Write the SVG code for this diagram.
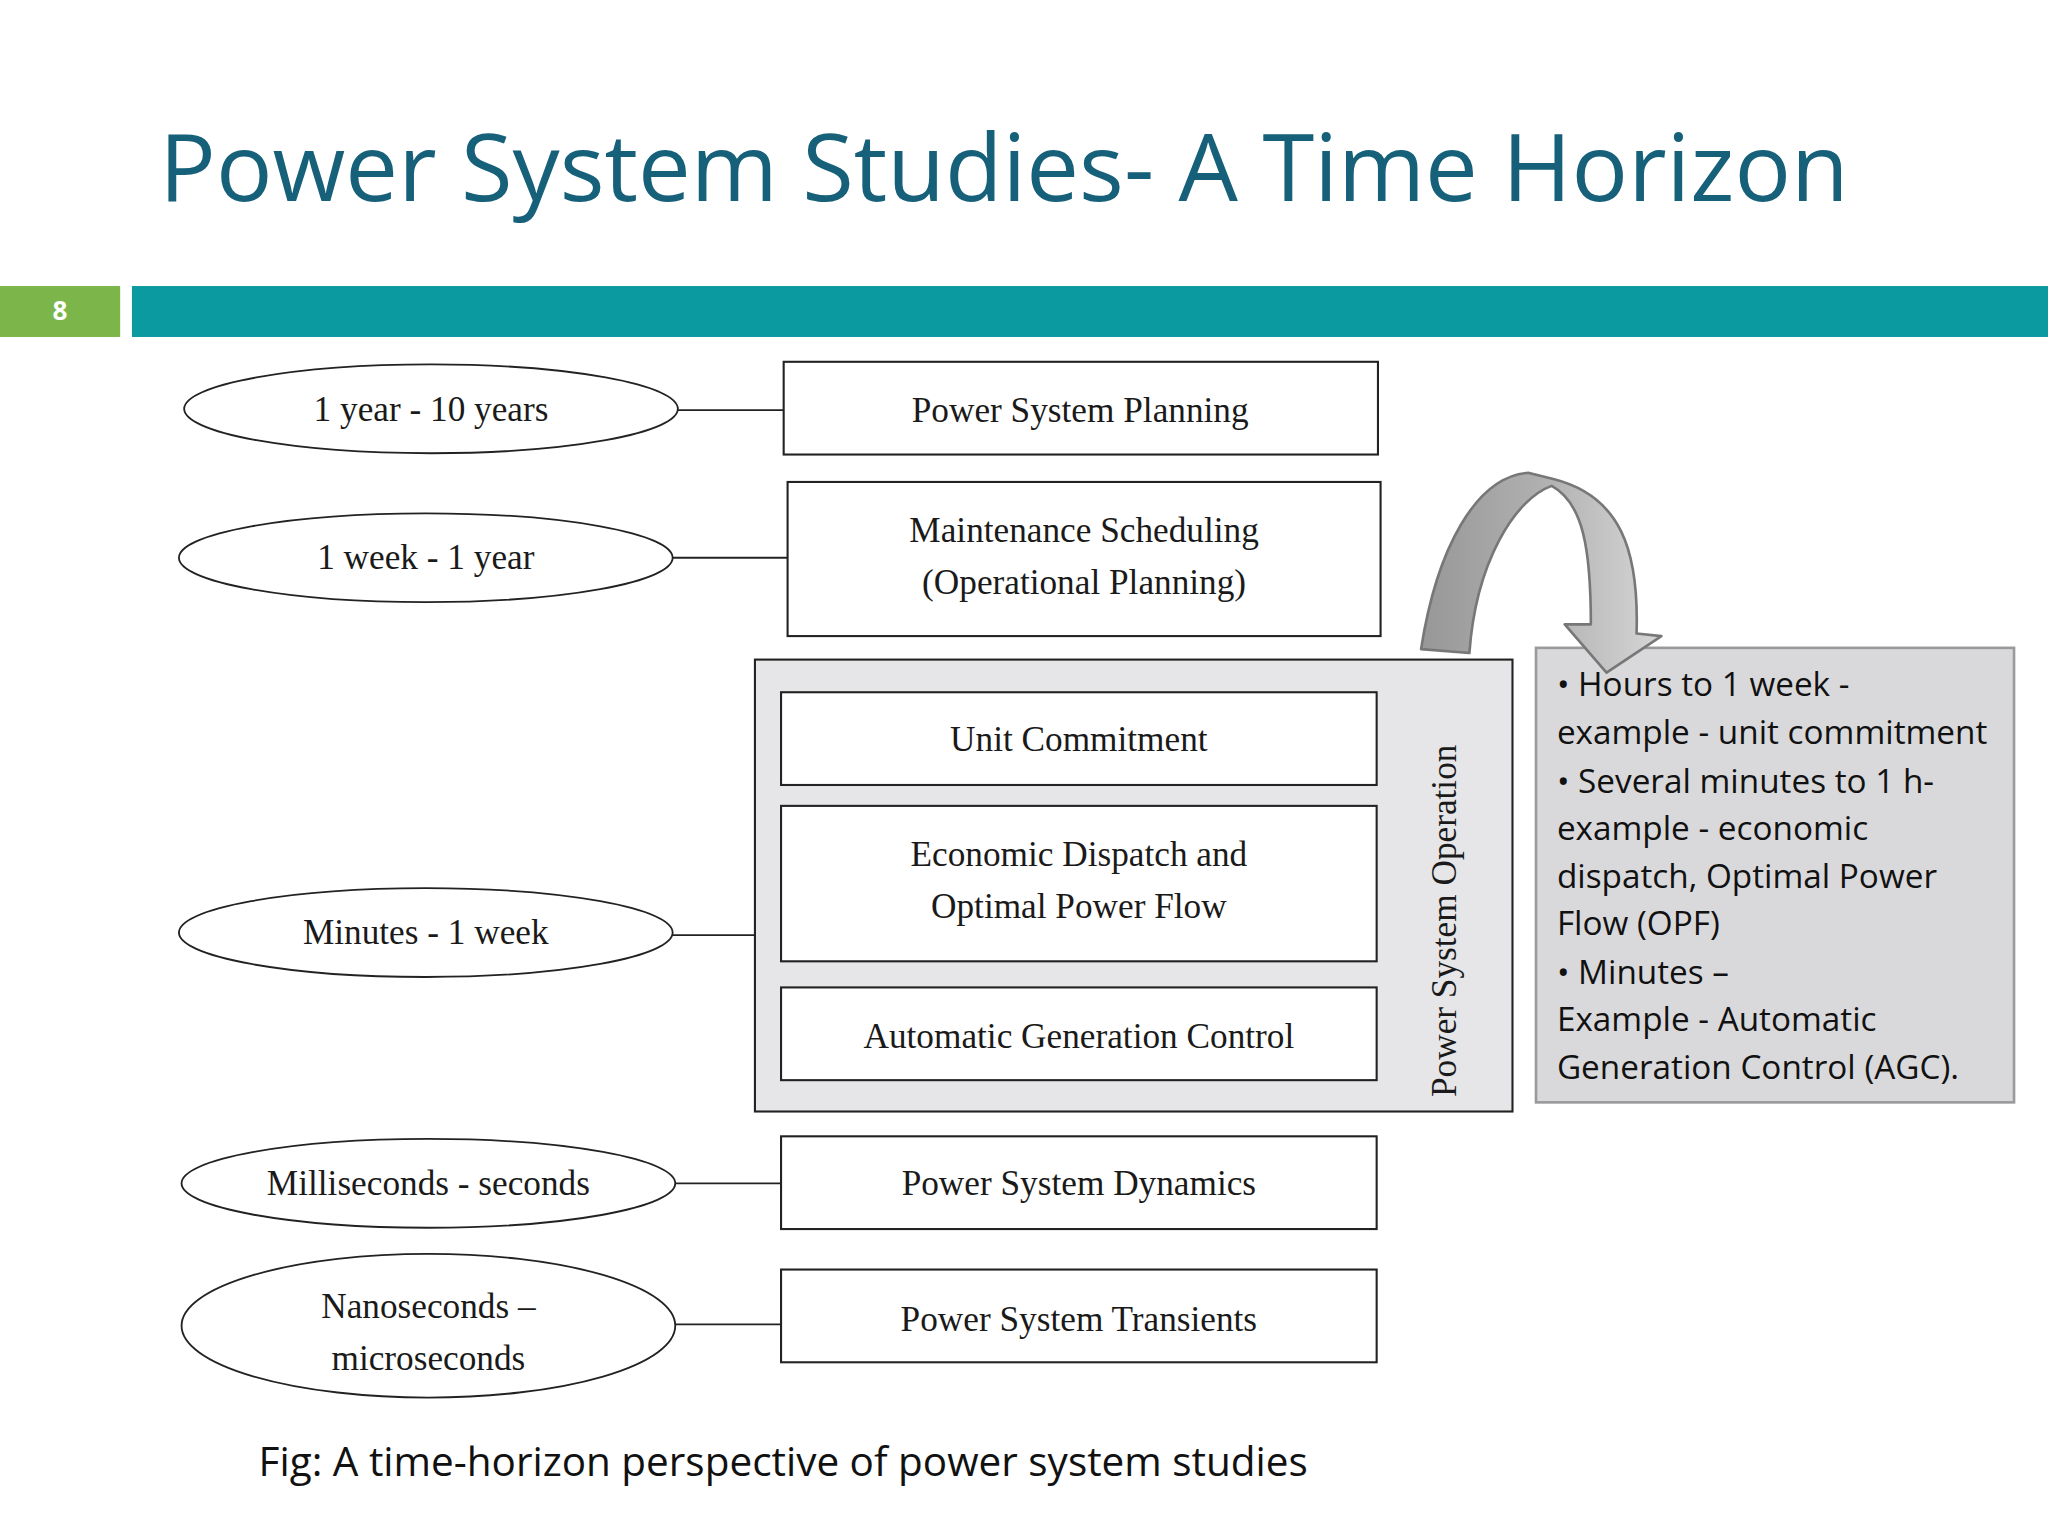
<svg xmlns="http://www.w3.org/2000/svg" width="2048" height="1536" viewBox="0 0 2048 1536">
<style>
.s{font-family:"Liberation Serif","Times New Roman",serif;font-size:27px;fill:#1a1a1a;text-anchor:middle}
.b{fill:#fff;stroke:#222;stroke-width:1.6}
.e{fill:#fff;stroke:#222;stroke-width:1.4}
.c{stroke:#222;stroke-width:1.4;fill:none}
.g{font-family:"Open Sans","Liberation Sans",sans-serif;font-size:25.5px;fill:#111}
</style>
<defs>
<linearGradient id="ag" x1="0" y1="0" x2="1" y2="0">
<stop offset="0" stop-color="#979797"/><stop offset="0.5" stop-color="#b0b0b0"/><stop offset="1" stop-color="#d6d6d6"/>
</linearGradient>
</defs>
<rect width="2048" height="1536" fill="#fff"/>
<g transform="scale(1.30612)">
<text x="122" y="154" font-family="'Open Sans','Liberation Sans',sans-serif" font-size="72" fill="#17607a">Power System Studies- A Time Horizon</text>
<rect x="0" y="219" width="92" height="39" fill="#7cb64a"/>
<text x="46" y="245" font-family="'Open Sans','Liberation Sans',sans-serif" font-size="20" font-weight="bold" fill="#fff" text-anchor="middle">8</text>
<rect x="101" y="219" width="1467" height="39" fill="#0b9aa0"/>
<g id="connectors">
<line class="c" x1="519" y1="314" x2="600" y2="314"/>
<line class="c" x1="515" y1="427" x2="603" y2="427"/>
<line class="c" x1="515" y1="716" x2="578" y2="716"/>
<line class="c" x1="517" y1="906" x2="598" y2="906"/>
<line class="c" x1="517" y1="1014" x2="598" y2="1014"/>
</g>
<g id="e1"><ellipse class="e" cx="330" cy="313" rx="189" ry="34"/><text class="s" x="330" y="322">1 year - 10 years</text></g>
<g id="e2"><ellipse class="e" cx="326" cy="427" rx="189" ry="34"/><text class="s" x="326" y="436">1 week - 1 year</text></g>
<g id="e3"><ellipse class="e" cx="326" cy="714" rx="189" ry="34"/><text class="s" x="326" y="723">Minutes - 1 week</text></g>
<g id="e4"><ellipse class="e" cx="328" cy="906" rx="189" ry="34"/><text class="s" x="328" y="915">Milliseconds - seconds</text></g>
<g id="e5"><ellipse class="e" cx="328" cy="1015" rx="189" ry="55"/><text class="s" x="328" y="1009">Nanoseconds –</text><text class="s" x="328" y="1049">microseconds</text></g>
<g id="planning"><rect class="b" x="600" y="277" width="455" height="71"/><text class="s" x="827" y="323">Power System Planning</text></g>
<g id="maint"><rect class="b" x="603" y="369" width="454" height="118"/><text class="s" x="830" y="415">Maintenance Scheduling</text><text class="s" x="830" y="455">(Operational Planning)</text></g>
<g id="operation"><rect x="578" y="505" width="580" height="346" fill="#e6e6e8" stroke="#222" stroke-width="1.6"/>
<text class="s" transform="translate(1115,705) rotate(-90)">Power System Operation</text></g>
<g id="uc"><rect class="b" x="598" y="530" width="456" height="71"/><text class="s" x="826" y="575">Unit Commitment</text></g>
<g id="ed"><rect class="b" x="598" y="617" width="456" height="119"/><text class="s" x="826" y="663">Economic Dispatch and</text><text class="s" x="826" y="703">Optimal Power Flow</text></g>
<g id="agc"><rect class="b" x="598" y="756" width="456" height="71"/><text class="s" x="826" y="802">Automatic Generation Control</text></g>
<g id="dyn"><rect class="b" x="598" y="870" width="456" height="71"/><text class="s" x="826" y="915">Power System Dynamics</text></g>
<g id="trans"><rect class="b" x="598" y="972" width="456" height="71"/><text class="s" x="826" y="1019">Power System Transients</text></g>
<g id="notes"><rect x="1176" y="496" width="366" height="348" fill="#d9d9db" stroke="#9a9a9a" stroke-width="2"/>
<text class="g" x="1192" y="533">• Hours to 1  week  -</text>
<text class="g" x="1192" y="570">example - unit commitment</text>
<text class="g" x="1192" y="607">• Several minutes to 1 h-</text>
<text class="g" x="1192" y="643">example - economic</text>
<text class="g" x="1192" y="680">dispatch, Optimal Power</text>
<text class="g" x="1192" y="716">Flow (OPF)</text>
<text class="g" x="1192" y="753">• Minutes –</text>
<text class="g" x="1192" y="789">Example - Automatic</text>
<text class="g" x="1192" y="826">Generation Control (AGC).</text>
</g>
<g id="arrow"><path d="M1088,497 C1100,420 1130,365 1170,362 L1190,367 C1240,380 1255,420 1253,485 L1272,487 L1230,515 L1198,478 L1218,478 C1218,420 1212,385 1188,372 C1160,382 1130,430 1125,500 Z" fill="url(#ag)" stroke="#777" stroke-width="2" stroke-linejoin="round"/></g>
<text x="198" y="1130" font-family="'Open Sans','Liberation Sans',sans-serif" font-size="31" fill="#111">Fig: A time-horizon perspective of power system studies</text>
</g>
</svg>
